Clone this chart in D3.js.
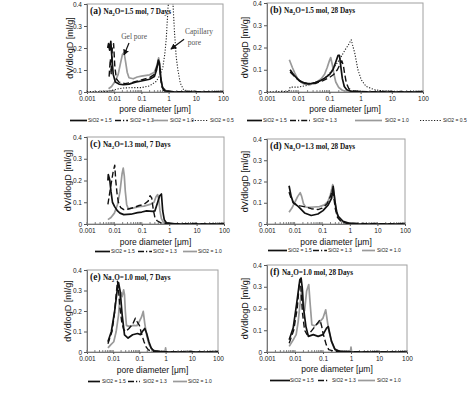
<!DOCTYPE html>
<html><head><meta charset="utf-8">
<script src="https://cdnjs.cloudflare.com/ajax/libs/d3/7.8.5/d3.min.js"></script>
<style>body{margin:0;background:#fff}</style>
</head><body>
<svg id="fig" width="474" height="394"></svg>
<script>
// tick values / labels shared by all panels
var xTicks=[0.001,0.01,0.1,1,10,100];
var xTickLabels=["0.001","0.01","0.1","1","10","100"];
var yTicks=[0,0.1,0.2,0.3,0.4];
var yTickLabels=["0","0.1","0.2","0.3","0.4"];
var seriesNames=["SiO2 = 1.5","SiO2 = 1.3","SiO2 = 1.0","SiO2 = 0.5"];
var titles=[["(a)","1.5","7"],["(b)","1.5","28"],["(c)","1.3","7"],["(d)","1.3","28"],["(e)","1.0","7"],["(f)","1.0","28"]];

// pore diameter [um], dV/dlogD [ml/g]
// (a) Na2O=1.5, 7 days
var a15=[[0.0058,0.2],[0.0062,0.22],[0.0068,0.19],[0.0075,0.23],[0.0082,0.16],[0.0092,0.08],[0.011,0.045],[0.015,0.036],[0.022,0.033],[0.035,0.036],[0.06,0.045],[0.1,0.05],[0.2,0.058],[0.3,0.07],[0.36,0.1],[0.42,0.145],[0.46,0.13],[0.52,0.06],[0.6,0.02],[0.75,0.005],[1.5,0.001],[100,0]];
var a13=[[0.0065,0.07],[0.0072,0.15],[0.0078,0.08],[0.0085,0.2],[0.0095,0.22],[0.0105,0.12],[0.012,0.06],[0.015,0.045],[0.025,0.038],[0.05,0.045],[0.1,0.055],[0.2,0.065],[0.3,0.08],[0.38,0.12],[0.43,0.14],[0.48,0.1],[0.55,0.03],[0.65,0.008],[1,0.002],[100,0]];
var a10=[[0.0062,0.015],[0.008,0.025],[0.011,0.05],[0.014,0.08],[0.017,0.13],[0.02,0.17],[0.023,0.18],[0.026,0.14],[0.03,0.09],[0.035,0.065],[0.05,0.06],[0.07,0.068],[0.1,0.072],[0.2,0.078],[0.3,0.09],[0.37,0.12],[0.43,0.155],[0.47,0.13],[0.52,0.06],[0.6,0.02],[0.8,0.006],[1.2,0.002],[100,0]];
var a05=[[0.001,0.002],[0.006,0.003],[0.01,0.01],[0.02,0.018],[0.05,0.02],[0.1,0.02],[0.2,0.028],[0.35,0.048],[0.5,0.08],[0.62,0.115],[0.72,0.17],[0.82,0.24],[0.95,0.38],[1.05,0.44],[1.25,0.46],[1.45,0.4],[1.65,0.27],[1.9,0.16],[2.2,0.1],[2.7,0.04],[3.5,0.012],[5,0.004],[10,0.002],[100,0.001]];
// (b) Na2O=1.5, 28 days
var b15=[[0.0055,0.1],[0.0065,0.085],[0.008,0.07],[0.011,0.05],[0.016,0.04],[0.022,0.036],[0.035,0.042],[0.05,0.05],[0.07,0.062],[0.1,0.078],[0.13,0.1],[0.16,0.135],[0.19,0.165],[0.21,0.165],[0.23,0.12],[0.26,0.06],[0.3,0.025],[0.36,0.01],[0.5,0.003],[1,0.001],[100,0]];
var b13=[[0.0055,0.09],[0.007,0.075],[0.009,0.06],[0.013,0.045],[0.02,0.038],[0.035,0.038],[0.06,0.05],[0.1,0.065],[0.14,0.08],[0.18,0.1],[0.22,0.125],[0.25,0.14],[0.28,0.12],[0.31,0.08],[0.35,0.04],[0.42,0.015],[0.55,0.005],[1,0.002],[100,0]];
var b10=[[0.0052,0.145],[0.0065,0.11],[0.0078,0.085],[0.0095,0.06],[0.012,0.045],[0.016,0.035],[0.024,0.033],[0.04,0.045],[0.055,0.06],[0.07,0.08],[0.085,0.11],[0.1,0.14],[0.11,0.155],[0.125,0.12],[0.14,0.08],[0.16,0.045],[0.2,0.02],[0.26,0.008],[0.35,0.003],[1,0.001],[100,0]];
var b05=[[0.001,0.001],[0.005,0.002],[0.0055,0.022],[0.01,0.022],[0.02,0.03],[0.04,0.045],[0.07,0.062],[0.115,0.093],[0.21,0.145],[0.32,0.19],[0.4,0.21],[0.5,0.235],[0.58,0.2],[0.65,0.175],[0.82,0.1],[1.05,0.055],[1.5,0.025],[2.8,0.01],[6,0.004],[100,0.001]];
// (c) Na2O=1.3, 7 days
var c15=[[0.0058,0.2],[0.006,0.227],[0.0068,0.2],[0.0075,0.15],[0.0085,0.1],[0.0102,0.08],[0.013,0.06],[0.016,0.05],[0.022,0.043],[0.04,0.045],[0.07,0.052],[0.1,0.055],[0.15,0.06],[0.25,0.058],[0.3,0.06],[0.38,0.1],[0.45,0.13],[0.52,0.138],[0.58,0.06],[0.66,0.02],[0.8,0.005],[1.5,0.001],[100,0]];
var c13=[[0.0058,0.09],[0.0063,0.12],[0.0075,0.18],[0.009,0.24],[0.0103,0.27],[0.0112,0.2],[0.0125,0.14],[0.014,0.1],[0.017,0.075],[0.022,0.066],[0.03,0.068],[0.05,0.075],[0.08,0.085],[0.12,0.09],[0.17,0.105],[0.2,0.13],[0.23,0.12],[0.26,0.07],[0.3,0.03],[0.36,0.015],[0.5,0.005],[1,0.002],[100,0]];
var c10=[[0.0058,0.02],[0.0075,0.03],[0.01,0.05],[0.013,0.09],[0.016,0.15],[0.019,0.23],[0.021,0.257],[0.023,0.22],[0.025,0.15],[0.028,0.09],[0.032,0.07],[0.05,0.074],[0.08,0.08],[0.12,0.082],[0.2,0.09],[0.28,0.1],[0.33,0.125],[0.38,0.135],[0.42,0.11],[0.46,0.06],[0.52,0.025],[0.6,0.01],[0.8,0.004],[2,0.001],[100,0]];
// (d) Na2O=1.3, 28 days
var d15=[[0.0063,0.18],[0.0075,0.13],[0.009,0.1],[0.0135,0.083],[0.023,0.052],[0.04,0.04],[0.07,0.047],[0.107,0.063],[0.165,0.09],[0.22,0.122],[0.25,0.177],[0.29,0.107],[0.33,0.06],[0.38,0.036],[0.57,0.013],[0.9,0.004],[2,0.001],[100,0]];
var d13=[[0.0063,0.15],[0.0075,0.12],[0.009,0.1],[0.012,0.09],[0.016,0.085],[0.025,0.08],[0.04,0.072],[0.07,0.068],[0.1,0.075],[0.15,0.095],[0.2,0.13],[0.23,0.16],[0.26,0.13],[0.3,0.07],[0.36,0.03],[0.5,0.01],[0.8,0.003],[100,0]];
var d10=[[0.0063,0.055],[0.008,0.075],[0.01,0.1],[0.013,0.13],[0.016,0.147],[0.018,0.13],[0.021,0.095],[0.025,0.08],[0.035,0.078],[0.05,0.08],[0.08,0.082],[0.12,0.09],[0.16,0.105],[0.2,0.14],[0.24,0.185],[0.27,0.14],[0.3,0.09],[0.35,0.045],[0.45,0.015],[0.7,0.004],[2,0.001],[100,0]];
// (e) Na2O=1.0, 7 days
var e15=[[0.0063,0.05],[0.0085,0.1],[0.0114,0.2],[0.014,0.295],[0.016,0.338],[0.0185,0.295],[0.022,0.18],[0.027,0.084],[0.037,0.068],[0.055,0.084],[0.085,0.09],[0.11,0.085],[0.13,0.1],[0.16,0.115],[0.19,0.09],[0.23,0.05],[0.28,0.02],[0.35,0.006],[0.6,0.002],[1,0.001],[100,0]];
var e13=[[0.0063,0.04],[0.009,0.1],[0.011,0.18],[0.013,0.28],[0.0145,0.345],[0.016,0.3],[0.018,0.22],[0.021,0.15],[0.025,0.11],[0.03,0.1],[0.04,0.115],[0.055,0.135],[0.07,0.165],[0.08,0.15],[0.1,0.13],[0.12,0.09],[0.15,0.05],[0.18,0.025],[0.22,0.01],[0.3,0.004],[1,0.001],[100,0]];
var e10=[[0.0063,0.02],[0.008,0.035],[0.0105,0.05],[0.013,0.1],[0.016,0.18],[0.018,0.27],[0.02,0.29],[0.022,0.27],[0.025,0.303],[0.027,0.28],[0.029,0.2],[0.032,0.13],[0.04,0.125],[0.06,0.13],[0.08,0.128],[0.1,0.15],[0.12,0.17],[0.14,0.198],[0.16,0.14],[0.19,0.08],[0.23,0.04],[0.3,0.012],[0.45,0.004],[0.95,0.002],[1,0.02],[1.05,0.002],[100,0]];
// (f) Na2O=1.0, 28 days
var f15=[[0.0062,0.056],[0.0086,0.11],[0.0113,0.217],[0.0148,0.331],[0.0165,0.34],[0.018,0.3],[0.0195,0.217],[0.0245,0.118],[0.03,0.072],[0.045,0.08],[0.067,0.072],[0.1,0.08],[0.134,0.11],[0.154,0.117],[0.2,0.05],[0.27,0.011],[0.4,0.003],[1,0.001],[100,0]];
var f13=[[0.0062,0.04],[0.009,0.1],[0.012,0.2],[0.014,0.3],[0.0155,0.335],[0.017,0.25],[0.0185,0.18],[0.022,0.1],[0.027,0.08],[0.035,0.09],[0.05,0.115],[0.07,0.14],[0.078,0.148],[0.09,0.118],[0.1,0.087],[0.13,0.034],[0.16,0.011],[0.25,0.003],[1,0.001],[100,0]];
var f10=[[0.0062,0.026],[0.009,0.06],[0.011,0.08],[0.013,0.14],[0.016,0.25],[0.018,0.3],[0.02,0.22],[0.022,0.19],[0.026,0.28],[0.031,0.31],[0.035,0.217],[0.04,0.125],[0.05,0.12],[0.07,0.133],[0.1,0.156],[0.125,0.194],[0.14,0.15],[0.16,0.1],[0.2,0.05],[0.25,0.018],[0.35,0.005],[0.95,0.002],[1,0.022],[1.05,0.002],[100,0]];

// annotations of panel (a), in data units
var gelLabel=[0.018,0.24], gelArrow=[[0.035,0.223],[0.023,0.168]];
var capLabel=[4.0,0.264], capLabel2=[5.1,0.214], capArrow=[[3.7,0.24],[1.22,0.195]];

var styles=[
  {stroke:"#111",w:1.7,dash:null},
  {stroke:"#111",w:1.4,dash:"6,3"},
  {stroke:"#9a9a9a",w:1.7,dash:null},
  {stroke:"#222",w:1.1,dash:"1.2,1.6"}
];
var sans="'Liberation Sans',Arial,sans-serif", serif="'Liberation Serif','Times New Roman',serif";

var svg=d3.select("#fig");
var defs=svg.append("defs");
defs.append("marker").attr("id","arr").attr("viewBox","0 0 10 10").attr("refX",9).attr("refY",5)
  .attr("markerWidth",5).attr("markerHeight",5).attr("orient","auto")
  .append("path").attr("d","M0,0L10,5L0,10z").attr("fill","#111");

var panels=[
  {k:"a",l:87,r:223,t:4,b:92,series:[a15,a13,a10,a05],ytx:73,xty:112,leg:{y:122,items:[[70,87,88],[115,128,130],[152,168,170],[192,208,210]]}},
  {k:"b",l:267,r:423,t:3,b:92,series:[b15,b13,b10,b05],ytx:248,xty:112,leg:{y:122,items:[[247,262,263],[290,310,313],[355,382,385],[420,442,443]]}},
  {k:"c",l:87,r:224,t:137,b:224,series:[c15,c13,c10],ytx:71,xty:245,leg:{y:253,items:[[95,110,111],[138,152,153],[183,197,198]]}},
  {k:"d",l:267,r:405,t:139,b:224,series:[d15,d13,d10],ytx:248,xty:245,leg:{y:252,items:[[268,287,288],[313,327,328],[362,375,377]]}},
  {k:"e",l:87,r:218,t:270,b:352,series:[e15,e13,e10],ytx:71,xty:373,leg:{y:383,items:[[88,100,102],[128,140,143],[173,187,188]]}},
  {k:"f",l:267,r:407,t:265,b:352,series:[f15,f13,f10],ytx:248,xty:372,leg:{y:382,items:[[270,290,290],[318,328,332],[358,375,377]]}}
];

panels.forEach(function(p,pi){
  var g=svg.append("g");
  var x=d3.scaleLog().domain([0.001,100]).range([p.l,p.r]);
  var y=d3.scaleLinear().domain([0,0.4]).range([p.b,p.t]);

  defs.append("clipPath").attr("id","clip"+p.k).append("rect")
    .attr("x",p.l).attr("y",p.t).attr("width",p.r-p.l).attr("height",p.b-p.t);

  g.append("rect").attr("x",p.l).attr("y",p.t).attr("width",p.r-p.l).attr("height",p.b-p.t)
    .attr("fill","none").attr("stroke","#a0a0a0").attr("stroke-width",1);

  // minor ticks on the x axis
  g.selectAll("line.minor").data(x.ticks()).enter().append("line")
    .attr("x1",function(d){return x(d)}).attr("x2",function(d){return x(d)})
    .attr("y1",p.b).attr("y2",p.b-2).attr("stroke","#666").attr("stroke-width",0.8);

  var xa=g.append("g").attr("transform","translate(0,"+p.b+")")
    .call(d3.axisBottom(x).tickValues(xTicks).tickFormat(function(d,i){return xTickLabels[i]}).tickSize(2).tickPadding(2));
  var ya=g.append("g").attr("transform","translate("+p.l+",0)")
    .call(d3.axisLeft(y).tickValues(yTicks).tickFormat(function(d,i){return yTickLabels[i]}).tickSize(3).tickPadding(2));
  [xa,ya].forEach(function(ax){
    ax.select(".domain").attr("stroke","#777");
    ax.selectAll(".tick line").attr("stroke","#555");
    ax.selectAll("text").attr("font-family",sans).attr("font-size",6.5).attr("fill","#222");
  });

  // curves
  var line=d3.line().x(function(d){return x(d[0])}).y(function(d){return y(d[1])});
  var cg=g.append("g").attr("clip-path","url(#clip"+p.k+")");
  p.series.slice().reverse().forEach(function(s,ri){
    var i=p.series.length-1-ri, st=styles[i];
    cg.append("path").datum(s).attr("d",line).attr("fill","none")
      .attr("stroke",st.stroke).attr("stroke-width",st.w)
      .attr("stroke-dasharray",st.dash).attr("stroke-linejoin","round");
  });

  // panel title
  var tt=titles[pi];
  var tx=g.append("text").attr("x",p.l+3).attr("y",p.t+10).attr("font-family",serif).attr("font-weight","bold").attr("fill","#111");
  tx.append("tspan").attr("font-size",9.5).text(tt[0]+" ");
  tx.append("tspan").attr("font-size",7.2).text("Na");
  tx.append("tspan").attr("font-size",5).attr("dy",1.5).text("2");
  tx.append("tspan").attr("font-size",7.2).attr("dy",-1.5).text("O="+tt[1]+" mol, "+tt[2]+" Days");

  // axis titles
  g.append("text").attr("x",(p.l+p.r)/2).attr("y",p.xty).attr("text-anchor","middle")
    .attr("font-family",sans).attr("font-size",8.5).attr("fill","#111").text("pore diameter [\u03bcm]");
  g.append("text").attr("transform","translate("+p.ytx+","+((p.t+p.b)/2)+") rotate(-90)")
    .attr("text-anchor","middle").attr("font-family",sans).attr("font-size",9).attr("fill","#111")
    .text("dV/dlogD [ml/g]");

  // legend
  p.leg.items.forEach(function(it,i){
    var st=styles[i];
    g.append("line").attr("x1",it[0]).attr("x2",it[1]).attr("y1",p.leg.y-1.5).attr("y2",p.leg.y-1.5)
      .attr("stroke",st.stroke).attr("stroke-width",st.w)
      .attr("stroke-dasharray",i==1?"6,2,1.2,2":st.dash);
    g.append("text").attr("x",it[2]).attr("y",p.leg.y).attr("font-family",sans).attr("font-size",5)
      .attr("fill","#222").text(seriesNames[i]);
  });

  if(p.k=="a"){
    var ann=g.append("g").attr("font-family",serif).attr("font-size",7.5).attr("fill","#555");
    ann.append("text").attr("x",x(gelLabel[0])).attr("y",y(gelLabel[1])).text("Gel pore");
    ann.append("text").attr("x",x(capLabel[0])).attr("y",y(capLabel[1])).text("Capillary");
    ann.append("text").attr("x",x(capLabel2[0])).attr("y",y(capLabel2[1])).text("pore");
    [gelArrow,capArrow].forEach(function(ar){
      g.append("line").attr("x1",x(ar[0][0])).attr("y1",y(ar[0][1])).attr("x2",x(ar[1][0])).attr("y2",y(ar[1][1]))
        .attr("stroke","#111").attr("stroke-width",1.2).attr("marker-end","url(#arr)");
    });
  }
});
</script>
</body></html>
